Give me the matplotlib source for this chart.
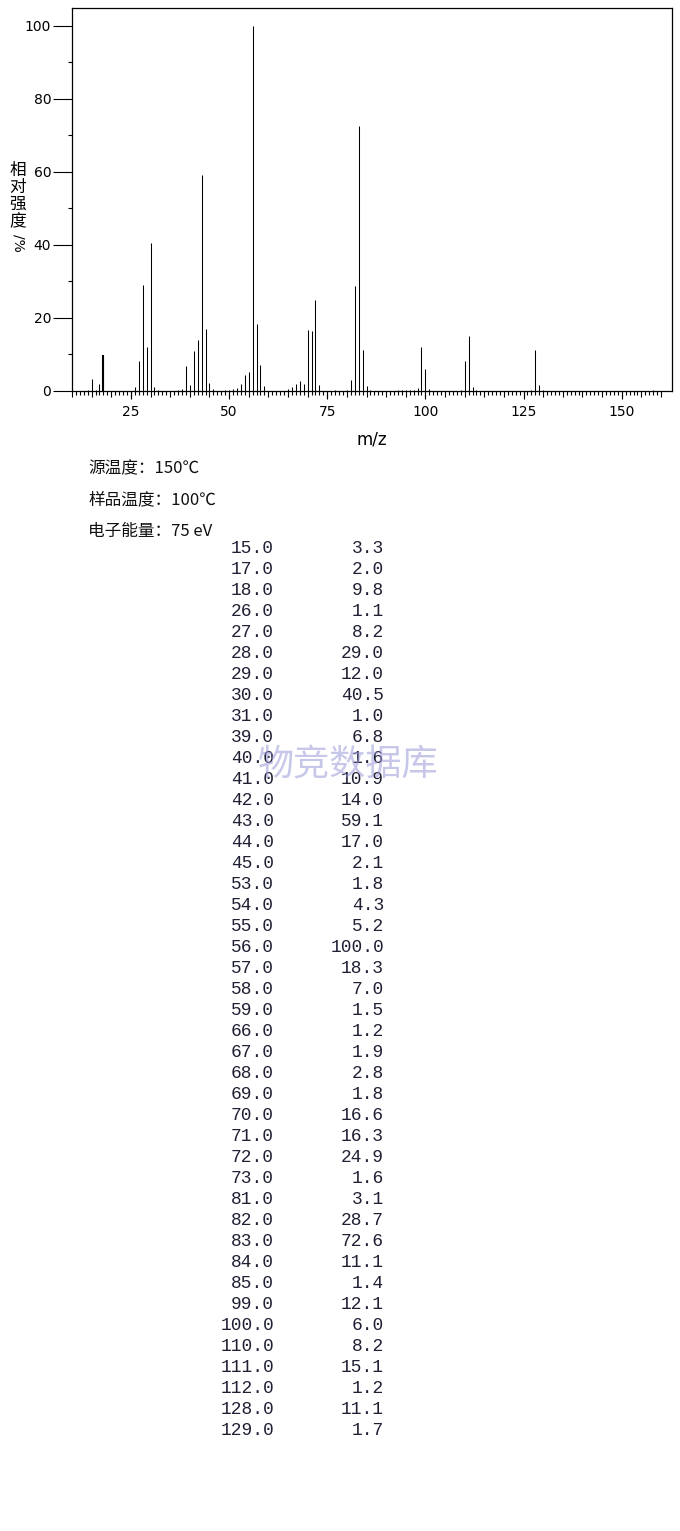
import numpy as np
import matplotlib.pyplot as plt
from matplotlib.ticker import MultipleLocator, FuncFormatter

plt.rcParams['font.family'] = ['DejaVu Sans', 'Noto Sans CJK SC']

# peaks listed in the table
mz = [15, 17, 18, 26, 27, 28, 29, 30, 31, 39, 40, 41, 42, 43, 44, 45, 53, 54, 55, 56,
      57, 58, 59, 66, 67, 68, 69, 70, 71, 72, 73, 81, 82, 83, 84, 85, 99, 100, 110, 111,
      112, 128, 129]
inten = [3.3, 2.0, 9.8, 1.1, 8.2, 29.0, 12.0, 40.5, 1.0, 6.8, 1.6, 10.9, 14.0, 59.1, 17.0,
         2.1, 1.8, 4.3, 5.2, 100.0, 18.3, 7.0, 1.5, 1.2, 1.9, 2.8, 1.8, 16.6, 16.3, 24.9,
         1.6, 3.1, 28.7, 72.6, 11.1, 1.4, 12.1, 6.0, 8.2, 15.1, 1.2, 11.1, 1.7]

# tiny peaks only visible on the plot
mz_small = [14, 16, 32, 37, 38, 46, 49, 50, 51, 52, 65, 77, 80, 86, 93, 94, 95, 96, 97,
            98, 101, 109, 113, 127, 130, 158]
inten_small = [0.4, 0.3, 0.4, 0.3, 0.5, 0.6, 0.3, 0.3, 0.5, 0.7, 0.5, 0.3, 0.3, 0.4, 0.3,
               0.4, 0.3, 0.4, 0.4, 0.9, 0.6, 0.3, 0.4, 0.4, 0.3, 0.4]

info = ['源温度：150℃', '样品温度：100℃', '电子能量：75 eV']

W, H = 680, 1531
fig = plt.figure(figsize=(W / 100, H / 100), dpi=100)
ax = fig.add_axes([72 / W, 1 - 391 / H, 600 / W, 383 / H])

ax.vlines(mz_small, 0, inten_small, color='black', lw=0.75)
ax.vlines(mz, 0, inten, color='black', lw=0.75)
ax.vlines([18], 0, [9.8], color='black', lw=1.5)

ax.set_xlim(10, 162.8)
ax.set_ylim(0, 104.9)
for s in ax.spines.values():
    s.set_linewidth(0.9)

ax.set_xticks([t for t in range(10, 161, 5)])
ax.set_xticks([t for t in range(10, 161)], minor=True)
ax.xaxis.set_major_formatter(FuncFormatter(lambda v, p: '%d' % v if v % 25 == 0 else ''))
ax.tick_params(axis='x', which='major', length=4.5, width=0.8, labelsize=10, pad=5.5)
ax.tick_params(axis='x', which='minor', length=2.7, width=0.8)
sec = ax.secondary_xaxis('bottom')
sec.set_xticks([25, 50, 75, 100, 125, 150])
sec.tick_params(length=6, width=0.8, labelbottom=False)
sec.spines['bottom'].set_visible(False)

ax.yaxis.set_major_locator(MultipleLocator(20))
ax.yaxis.set_minor_locator(MultipleLocator(10))
ax.tick_params(axis='y', which='major', length=13.5, width=0.8, labelsize=10, pad=1.5)
ax.tick_params(axis='y', which='minor', length=3, width=0.8)

fig.text(372 / W, 1 - 440 / H, 'm/z', ha='center', va='center', fontsize=12)
fig.text(18 / W, 1 - 196 / H, '相\n对\n强\n度', ha='center', va='center', fontsize=12,
         linespacing=1.0, family=['Noto Sans CJK SC'])
fig.text(18 / W, 1 - 243 / H, '/%', ha='center', va='center', fontsize=10, rotation=-90)

for i, t in enumerate(info):
    fig.text(88 / W, 1 - (469 + 31 * i) / H, t, ha='left', va='center', fontsize=12,
             family=['Noto Sans CJK SC', 'DejaVu Sans'], color='#111111')

y0, dy = 549, 20.98
for i, (m, v) in enumerate(zip(mz, inten)):
    y = 1 - (y0 + dy * i) / H
    fig.text(274 / W, y, '%.1f' % m, ha='right', va='center', fontsize=12.9,
             family='Liberation Mono', color='#202035')
    fig.text(384 / W, y, '%.1f' % v, ha='right', va='center', fontsize=12.9,
             family='Liberation Mono', color='#202035')

fig.text(348 / W, 1 - 766 / H, '物竞数据库', ha='center', va='center', fontsize=26,
         family=['Noto Sans CJK SC'], color='#9a9ad8', alpha=0.55, zorder=10)

fig.savefig('out.png', dpi=100)
